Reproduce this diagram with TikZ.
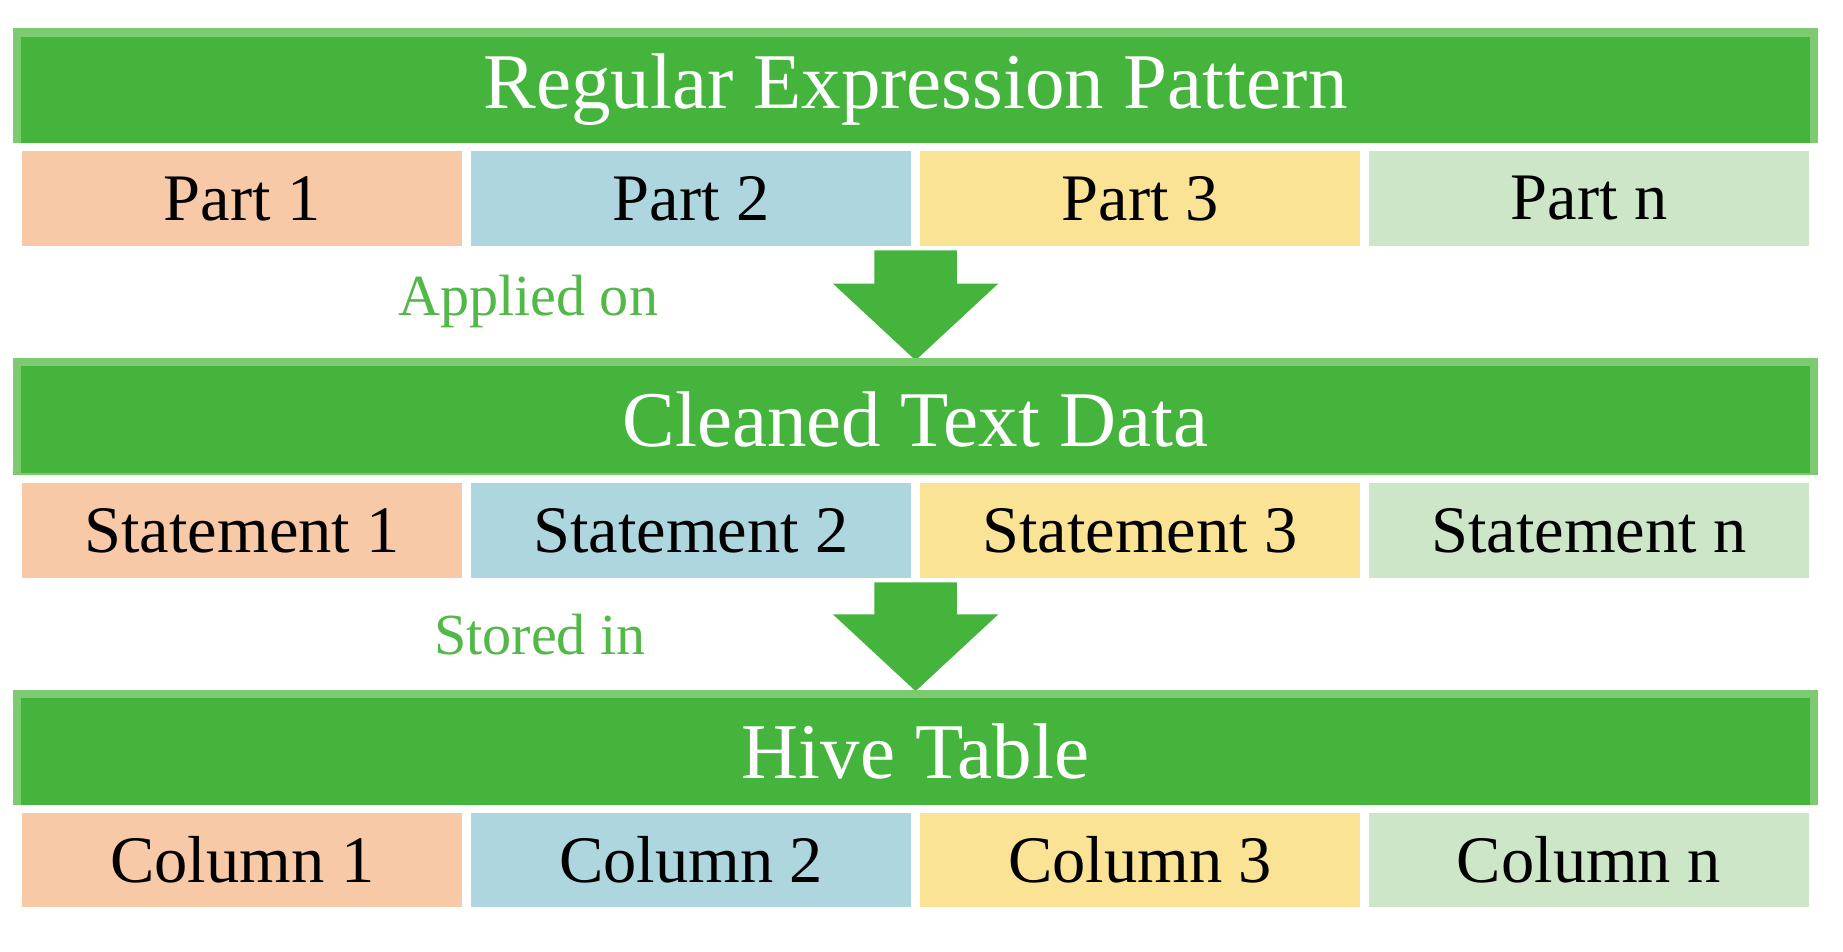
\documentclass[tikz,border=0pt]{standalone}
\usepackage{fontspec}
\setmainfont{Liberation Serif}
\definecolor{gbar}{HTML}{45B43C}
\definecolor{gedge}{HTML}{7CCB70}
\definecolor{cpeach}{HTML}{F8C9A6}
\definecolor{cblue}{HTML}{AED6DF}
\definecolor{cyell}{HTML}{FBE395}
\definecolor{cgreen}{HTML}{CDE6C8}
\definecolor{lbl}{HTML}{52B848}
\begin{document}
\begin{tikzpicture}[x=0.01cm,y=-0.01cm]
\tikzset{
 bar/.style={fill=gbar,draw=gedge,line width=2pt,minimum width=15.2cm,minimum height=0.97cm,inner sep=0pt,text=white,font=\fontsize{19}{22}\selectfont},
 cell/.style={draw=white,line width=2pt,minimum width=3.8cm,minimum height=0.87cm,inner sep=0pt,font=\fontsize{16}{19}\selectfont},
 lab/.style={text=lbl,font=\fontsize{14}{17}\selectfont},
 arr/.style={fill=gbar,draw=none}
}
\fill[white] (0,0) rectangle (1560,805);
\useasboundingbox (0,0) rectangle (1560,805);
% row 1
\node[bar] (b1) at (775,76) {Regular Expression Pattern};
\node[cell,fill=cpeach] (p1) at (205,168) {Part 1};
\node[cell,fill=cblue] (p2) at (585,168) {Part 2};
\node[cell,fill=cyell] (p3) at (965,168) {Part 3};
\node[cell,fill=cgreen] (p4) at (1345,168) {Part n};
\node[lab] (l1) at (447,255) {Applied on};
\fill[arr] (740,212) -- (740,240) -- (705,240) -- (775,305) -- (845,240) -- (810,240) -- (810,212) -- cycle;
% row 2
\node[bar] (b2) at (775,355) {Cleaned Text Data};
\node[cell,fill=cpeach] (s1) at (205,449) {Statement 1};
\node[cell,fill=cblue] (s2) at (585,449) {Statement 2};
\node[cell,fill=cyell] (s3) at (965,449) {Statement 3};
\node[cell,fill=cgreen] (s4) at (1345,449) {Statement n};
\node[lab] (l2) at (457,537) {Stored in};
\fill[arr] (740,493) -- (740,520) -- (705,520) -- (775,585) -- (845,520) -- (810,520) -- (810,493) -- cycle;
% row 3
\node[bar] (b3) at (775,636) {Hive Table};
\node[cell,fill=cpeach] (c1) at (205,728) {Column 1};
\node[cell,fill=cblue] (c2) at (585,728) {Column 2};
\node[cell,fill=cyell] (c3) at (965,728) {Column 3};
\node[cell,fill=cgreen] (c4) at (1345,728) {Column n};
\end{tikzpicture}
\end{document}
